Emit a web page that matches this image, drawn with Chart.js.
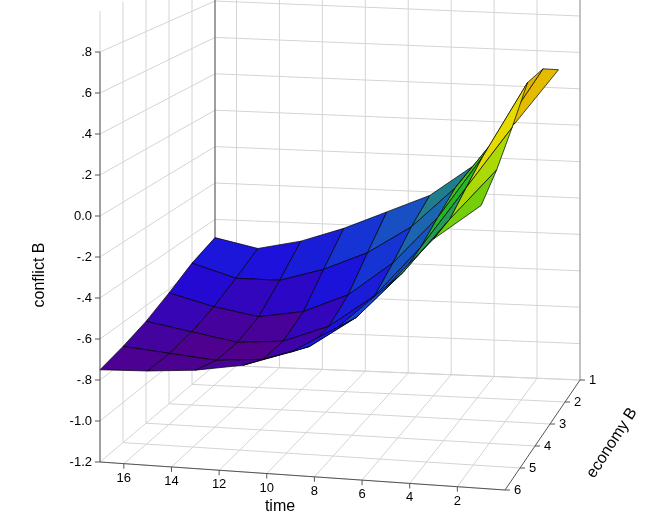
<!DOCTYPE html>
<html><head><meta charset="utf-8">
<script src="https://cdn.jsdelivr.net/npm/chart.js@4/dist/chart.umd.min.js"></script>
<style>body{margin:0;background:#fff}</style>
</head><body>
<canvas id="c" width="659" height="515"></canvas>
<script>
// surface samples
const timeVals = [17, 15, 13, 11, 9, 7, 5, 3, 1];
const economyVals = [1, 2, 3, 4, 5, 6];
const conflictB = [
  [-0.50, -0.55, -0.50, -0.42, -0.32, -0.22, -0.05, 0.20, 0.50],
  [-0.55, -0.62, -0.62, -0.55, -0.45, -0.30, -0.08, 0.22, 0.58],
  [-0.62, -0.68, -0.72, -0.68, -0.58, -0.40, -0.15, 0.18, 0.58],
  [-0.68, -0.72, -0.76, -0.74, -0.65, -0.48, -0.22, 0.10, 0.42],
  [-0.72, -0.74, -0.76, -0.74, -0.66, -0.50, -0.26, 0.02, 0.28],
  [-0.75, -0.74, -0.72, -0.68, -0.60, -0.46, -0.25, 0.00, 0.18]
];
const zTicks = [-1.2, -1.0, -0.8, -0.6, -0.4, -0.2, 0.0, 0.2, 0.4, 0.6, 0.8];
const zLabels = ['-1.2', '-1.0', '-.8', '-.6', '-.4', '-.2', '0.0', '.2', '.4', '.6', '.8'];
const timeTicks = [16, 14, 12, 10, 8, 6, 4, 2];
const econTicks = [1, 2, 3, 4, 5, 6];

// box corners in the page (used only to build the projection)
const FL = [100, 462], FR = [505, 490], BL = [215, 365], BR = [580, 380];
function proj(t, e, z) {
  const u = (17 - t) / 17, v = (6 - e) / 5;
  const fx = FL[0] * (1 - u) * (1 - v) + FR[0] * u * (1 - v) + BL[0] * (1 - u) * v + BR[0] * u * v;
  const fy = FL[1] * (1 - u) * (1 - v) + FR[1] * u * (1 - v) + BL[1] * (1 - u) * v + BR[1] * u * v;
  const s = 205 * (1 - v) + 182 * v;
  return [fx, fy - (z + 1.2) * s];
}

function colorFor(z) {
  const stops = [[-0.75, [80, 0, 140]], [-0.6, [30, 10, 220]], [-0.4, [20, 60, 210]], [-0.2, [30, 110, 170]], [0, [40, 190, 20]], [0.3, [230, 230, 0]], [0.55, [220, 90, 0]]];
  if (z <= stops[0][0]) return 'rgb(' + stops[0][1] + ')';
  for (let i = 1; i < stops.length; i++) {
    if (z <= stops[i][0]) {
      const a = (z - stops[i - 1][0]) / (stops[i][0] - stops[i - 1][0]);
      const c = stops[i - 1][1].map((v, k) => Math.round(v + (stops[i][1][k] - v) * a));
      return 'rgb(' + c + ')';
    }
  }
  return 'rgb(' + stops[stops.length - 1][1] + ')';
}

const surfacePlugin = {
  id: 'surface',
  afterDatasetsDraw(chart) {
    const ctx = chart.ctx, sx = chart.scales.x, sy = chart.scales.y;
    const P = (t, e, z) => { const p = proj(t, e, z); return [sx.getPixelForValue(p[0]), sy.getPixelForValue(p[1])]; };
    const line = (a, b, col) => { ctx.strokeStyle = col; ctx.beginPath(); ctx.moveTo(a[0], a[1]); ctx.lineTo(b[0], b[1]); ctx.stroke(); };
    ctx.save();
    ctx.lineWidth = 1;
    const grid = '#d4d4d4', frame = '#555';
    // back wall & left wall grid
    zTicks.forEach(z => {
      line(P(17, 1, z), P(0, 1, z), grid);
      line(P(17, 6, z), P(17, 1, z), grid);
    });
    for (let t = 16; t >= 0; t -= 2) line(P(t, 1, -1.2), P(t, 1, 1.0), grid);
    econTicks.forEach(e => line(P(17, e, -1.2), P(17, e, 1.0), grid));
    // floor grid
    timeTicks.forEach(t => line(P(t, 6, -1.2), P(t, 1, -1.2), grid));
    econTicks.forEach(e => line(P(17, e, -1.2), P(0, e, -1.2), grid));
    // frame
    line(P(17, 6, -1.2), P(17, 6, 0.8), frame);
    line(P(17, 6, -1.2), P(0, 6, -1.2), frame);
    line(P(0, 6, -1.2), P(0, 1, -1.2), frame);
    line(P(17, 1, -1.2), P(17, 1, 1.0), frame);
    line(P(0, 1, -1.2), P(0, 1, 1.0), '#999');
    // surface quads back to front
    for (let i = 0; i < economyVals.length - 1; i++) {
      for (let j = 0; j < timeVals.length - 1; j++) {
        const e0 = economyVals[i], e1 = economyVals[i + 1], t0 = timeVals[j], t1 = timeVals[j + 1];
        const z = [conflictB[i][j], conflictB[i][j + 1], conflictB[i + 1][j + 1], conflictB[i + 1][j]];
        const pts = [P(t0, e0, z[0]), P(t1, e0, z[1]), P(t1, e1, z[2]), P(t0, e1, z[3])];
        ctx.fillStyle = colorFor((z[0] + z[1] + z[2] + z[3]) / 4);
        ctx.beginPath();
        pts.forEach((p, k) => k ? ctx.lineTo(p[0], p[1]) : ctx.moveTo(p[0], p[1]));
        ctx.closePath();
        ctx.fill();
        ctx.strokeStyle = 'rgba(0,0,0,0.7)';
        ctx.stroke();
      }
    }
    // tick labels
    ctx.fillStyle = '#000';
    ctx.font = '13px Arial, "Liberation Sans"';
    ctx.textAlign = 'right'; ctx.textBaseline = 'middle';
    zTicks.forEach((z, k) => { const p = P(17, 6, z); line(p, [p[0] - 5, p[1]], frame); ctx.fillText(zLabels[k], p[0] - 8, p[1]); });
    ctx.textAlign = 'center'; ctx.textBaseline = 'top';
    timeTicks.forEach(t => { const p = P(t, 6, -1.2); line(p, [p[0], p[1] + 5], frame); ctx.fillText(String(t), p[0], p[1] + 8); });
    ctx.textAlign = 'left'; ctx.textBaseline = 'middle';
    econTicks.forEach(e => { const p = P(0, e, -1.2); line(p, [p[0] + 5, p[1]], frame); ctx.fillText(String(e), p[0] + 9, p[1]); });
    // axis titles
    ctx.font = '16px Arial, "Liberation Sans"';
    ctx.textAlign = 'center';
    ctx.fillText('time', 280, 507);
    ctx.save(); ctx.translate(40, 275); ctx.rotate(-Math.PI / 2); ctx.fillText('conflict B', 0, 0); ctx.restore();
    ctx.save(); ctx.translate(612, 443); ctx.rotate(-1.0); ctx.fillText('economy B', 0, 0); ctx.restore();
    ctx.restore();
  }
};

new Chart(document.getElementById('c'), {
  type: 'scatter',
  data: { datasets: [{ data: [], pointRadius: 0 }] },
  options: {
    responsive: false,
    animation: false,
    layout: { padding: 0 },
    plugins: { legend: { display: false }, tooltip: { enabled: false } },
    scales: {
      x: { type: 'linear', min: 0, max: 659, display: false },
      y: { type: 'linear', min: 0, max: 515, reverse: true, display: false }
    }
  },
  plugins: [surfacePlugin]
});
</script>
</body></html>
